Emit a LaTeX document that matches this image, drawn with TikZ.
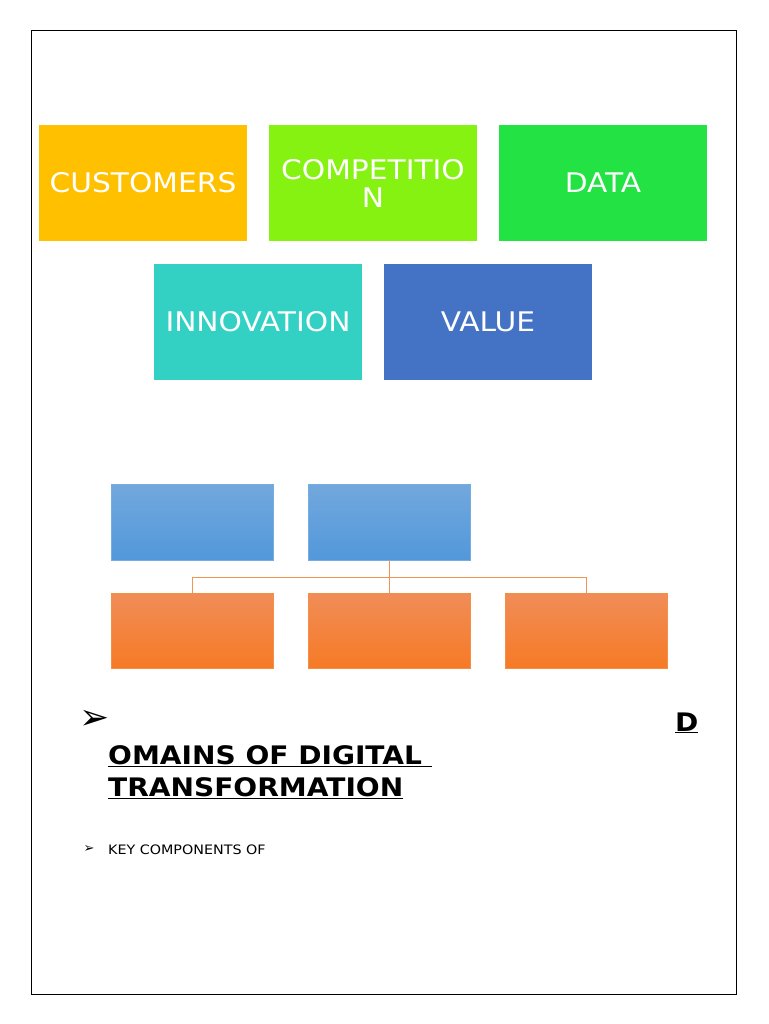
\documentclass[tikz,border=0pt]{standalone}
\usepackage{fontspec}
\setmainfont{DejaVu Sans}
\newcommand{\sx}[1]{\scalebox{1.1}[1]{#1}}
\definecolor{cCust}{HTML}{FFC000}
\definecolor{cComp}{HTML}{86F211}
\definecolor{cData}{HTML}{22E244}
\definecolor{cInno}{HTML}{33D1C4}
\definecolor{cVal}{HTML}{4472C4}
\definecolor{bTop}{HTML}{72A8DC}
\definecolor{bBot}{HTML}{5298DB}
\definecolor{oTop}{HTML}{F08D58}
\definecolor{oBot}{HTML}{F67A25}
\definecolor{oLine}{HTML}{F29355}
\begin{document}
\begin{tikzpicture}[x=1pt,y=-1pt,
  bigbox/.style={rectangle,minimum width=208pt,minimum height=116pt,inner sep=0pt,text=white,
     font=\fontsize{27}{30}\selectfont,align=center},
  bluebox/.style={rectangle,minimum width=162pt,minimum height=76pt,inner sep=0pt,
     top color=bTop,bottom color=bBot,draw=bBot!80!white,line width=0.4pt},
  orangebox/.style={rectangle,minimum width=162pt,minimum height=75pt,inner sep=0pt,
     top color=oTop,bottom color=oBot,draw=oBot!85!white,line width=0.4pt},
  conn/.style={draw=oLine,line width=0.9pt},
  title/.style={anchor=base west,inner sep=0pt,font=\fontsize{25.5}{30}\selectfont\bfseries}
]
\useasboundingbox (0,0) rectangle (768,1024);
\draw[line width=0.8pt] (31,30) rectangle (736,994);

\node[bigbox,fill=cCust] (cust) at (143,183) {\sx{CUSTOMERS}};
\node[bigbox,fill=cComp] (comp) at (373,183) {\sx{COMPETITIO}\\[-2pt]\sx{N}};
\node[bigbox,fill=cData] (data) at (603,183) {\sx{DATA}};
\node[bigbox,fill=cInno] (inno) at (258,321.5) {\sx{INNOVATION}};
\node[bigbox,fill=cVal] (val) at (488,321.5) {\sx{VALUE}};

\node[bluebox] (b1) at (192,522) {};
\node[bluebox] (b2) at (389,522) {};
\node[orangebox] (o1) at (192,630.5) {};
\node[orangebox] (o2) at (389,630.5) {};
\node[orangebox] (o3) at (586,630.5) {};

\coordinate (j) at (389,577);
\draw[conn] (b2.south) -- (j);
\draw[conn] (o1.north) |- (j);
\draw[conn] (o3.north) |- (j);
\draw[conn] (j) -- (o2.north);

\node[anchor=center,inner sep=0pt,font=\fontsize{36}{38}\selectfont] (bul1) at (95,720) {➢};
\node[title] (tD) at (675,731) {\sx{\underline{D}}};
\node[title] (t1) at (108,764) {\sx{\underline{OMAINS OF DIGITAL\ }}};
\node[title] (t2) at (108,796) {\sx{\underline{TRANSFORMATION}}};

\node[anchor=center,inner sep=0pt,font=\fontsize{13}{14}\selectfont] (bul2) at (89,849) {➢};
\node[anchor=base west,inner sep=0pt,font=\fontsize{13}{15}\selectfont] (key) at (108,854) {\sx{KEY COMPONENTS OF}};
\end{tikzpicture}
\end{document}
